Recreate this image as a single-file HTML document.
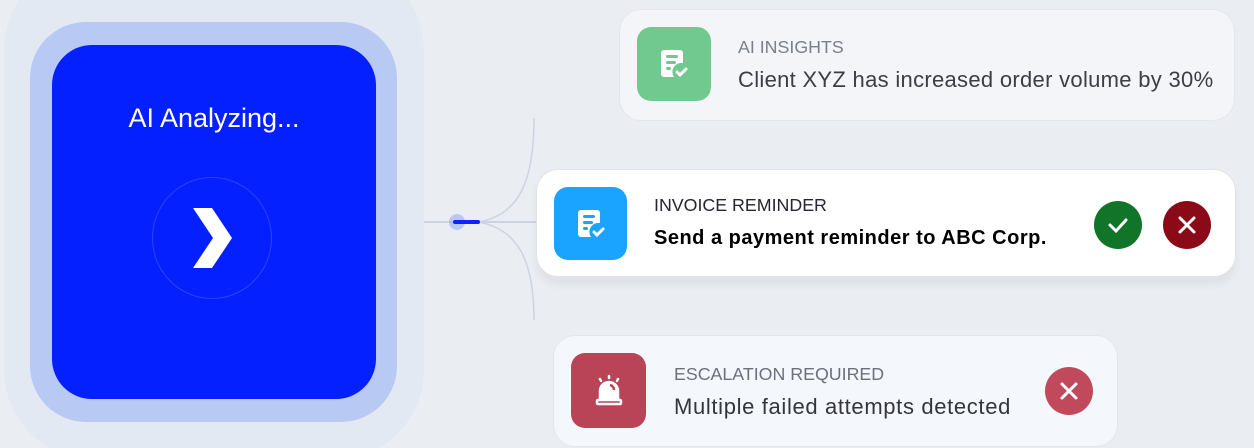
<!DOCTYPE html>
<html style="overflow:hidden;height:448px"><head><meta charset="utf-8"><style>
body{margin:0;width:1254px;height:448px;overflow:hidden;background:#eaeef3;font-family:"Liberation Sans",sans-serif;position:relative}
.a{position:absolute}
.card{position:absolute;border-radius:22px;box-sizing:border-box}
.ic{position:absolute;border-radius:14px;display:flex;align-items:center;justify-content:center}
.lb{position:absolute;font-size:17.8px;white-space:nowrap}
.tx{position:absolute;font-size:22px;white-space:nowrap}
.btn{position:absolute;width:48px;height:48px;border-radius:50%;display:flex;align-items:center;justify-content:center}
</style></head><body>
<div class="a" style="left:4px;top:-40px;width:420px;height:500px;border-radius:90px;background:#e3e9f3"></div>
<div class="a" style="left:30px;top:22px;width:367px;height:400px;border-radius:56px;background:#b8c9f4"></div>
<div class="a" style="left:52px;top:45px;width:324px;height:354px;border-radius:40px;background:#0520ff"></div>
<div class="a" style="left:52px;top:103px;width:324px;text-align:center;color:#fff;font-size:27px">AI Analyzing...</div>
<div class="a" style="left:152px;top:177px;width:120px;height:122px;border-radius:50%;border:1.5px solid #2a44ff;box-sizing:border-box"></div>
<svg class="a" style="left:0;top:0" width="1254" height="448">
<polygon points="193,208 212,208 232,238 212,268 193,268 213,238" fill="#fff"/>
<line x1="424" y1="222" x2="536" y2="222" stroke="#cdd3e2" stroke-width="2"/>
<path d="M478 222 C520 215 534 180 534 118" stroke="#cdd3e2" stroke-width="1.5" fill="none"/>
<path d="M478 222 C520 229 534 264 534 320" stroke="#cdd3e2" stroke-width="1.5" fill="none"/>
<ellipse cx="457" cy="222" rx="8" ry="8" fill="#8da0ff" opacity="0.5"/>
<line x1="455" y1="222" x2="478" y2="222" stroke="#0b24ff" stroke-width="4" stroke-linecap="round"/>
</svg>

<div class="card" style="left:619px;top:9px;width:616px;height:112px;background:#f3f5f9;border:1.5px solid #e2e6ee"></div>
<div class="ic" style="left:637px;top:27px;width:74px;height:74px;background:#72c98f">
<svg width="36" height="36" viewBox="0 0 36 36"><path d="M8 4h16a3 3 0 0 1 3 3v10a9 9 0 0 0-9 14H8a3 3 0 0 1-3-3V7a3 3 0 0 1 3-3z" fill="#fff"/><rect x="10" y="9" width="12" height="3" rx="1.5" fill="#72c98f"/><rect x="10" y="15" width="10" height="3" rx="1.5" fill="#72c98f"/><rect x="10" y="21" width="5" height="3" rx="1.5" fill="#72c98f"/><path d="M21 26l3 3 6-6" stroke="#fff" stroke-width="3" fill="none" stroke-linecap="round"/></svg></div>
<div class="lb" style="left:738px;top:37px;color:#7a7f8c">AI INSIGHTS</div>
<div class="tx" style="left:738px;top:67px;color:#3c3d45;letter-spacing:0.3px">Client XYZ has increased order volume by 30%</div>

<div class="card" style="left:536px;top:169px;width:700px;height:108px;background:#fff;border:1.5px solid #dfe3ea;box-shadow:0 8px 8px rgba(0,0,0,0.05)"></div>
<div class="ic" style="left:554px;top:187px;width:73px;height:73px;background:#1aa3ff">
<svg width="36" height="36" viewBox="0 0 36 36"><path d="M8 4h16a3 3 0 0 1 3 3v10a9 9 0 0 0-9 14H8a3 3 0 0 1-3-3V7a3 3 0 0 1 3-3z" fill="#fff"/><rect x="10" y="9" width="12" height="3" rx="1.5" fill="#1aa3ff"/><rect x="10" y="15" width="10" height="3" rx="1.5" fill="#1aa3ff"/><rect x="10" y="21" width="5" height="3" rx="1.5" fill="#1aa3ff"/><path d="M21 26l3 3 6-6" stroke="#fff" stroke-width="3" fill="none" stroke-linecap="round"/></svg></div>
<div class="lb" style="left:654px;top:195px;color:#25262e">INVOICE REMINDER</div>
<div class="tx" style="left:654px;top:227px;color:#000;font-weight:bold;font-size:20px;letter-spacing:0.5px">Send a payment reminder to ABC Corp.</div>
<div class="btn" style="left:1094px;top:201px;background:#107528"><svg width="22" height="22"><path d="M3 11l6 6 10-11" stroke="#fff" stroke-width="3" fill="none" stroke-linecap="round"/></svg></div>
<div class="btn" style="left:1163px;top:201px;background:#8b0a17"><svg width="20" height="20"><path d="M3 3l14 14M17 3L3 17" stroke="#fff" stroke-width="3" stroke-linecap="round"/></svg></div>

<div class="card" style="left:553px;top:335px;width:565px;height:112px;background:#f4f7fb;border:1.5px solid #e2e6ee"></div>
<div class="ic" style="left:571px;top:353px;width:75px;height:75px;background:#b94457">
<svg width="40" height="40" viewBox="0 0 40 40" fill="none" stroke="#fff" stroke-width="2.5"><path d="M11 28v-8a9 9 0 0 1 18 0v8z" fill="#fff"/><path d="M21 14a5 5 0 0 1 4 5" stroke="#b94457"/><rect x="8" y="29" width="24" height="4" rx="1"/><path d="M20 5v2M11 8l1 2M29 8l-1 2" stroke-linecap="round"/></svg></div>
<div class="lb" style="left:674px;top:364px;color:#6c707d">ESCALATION REQUIRED</div>
<div class="tx" style="left:674px;top:394px;color:#34353d;letter-spacing:0.65px">Multiple failed attempts detected</div>
<div class="btn" style="left:1045px;top:367px;background:#c04a5c"><svg width="20" height="20"><path d="M3 3l14 14M17 3L3 17" stroke="#fff" stroke-width="3" stroke-linecap="round"/></svg></div>
</body></html>
